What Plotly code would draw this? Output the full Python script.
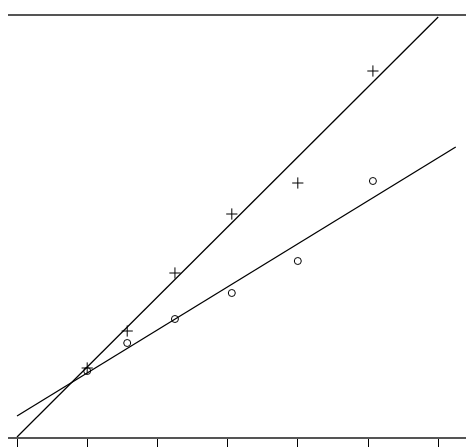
import plotly.graph_objects as go

# marker positions
x_pts = [1.0, 1.57, 2.25, 3.06, 4.0, 5.07]
y_plus = [69, 106, 164, 223, 254, 366]
y_circle = [66, 94, 118, 144, 176, 256]

# fitted lines, endpoints
steep_x = [0.0, 6.0]
steep_y = [0, 420]
shallow_x = [0.0, 6.25]
shallow_y = [21, 290]

tick_vals = [0, 1, 2, 3, 4, 5, 6]

fig = go.Figure()
fig.add_trace(go.Scatter(x=steep_x, y=steep_y, mode="lines", line=dict(color="black", width=1.3)))
fig.add_trace(go.Scatter(x=shallow_x, y=shallow_y, mode="lines", line=dict(color="black", width=1.3)))
fig.add_trace(go.Scatter(x=x_pts, y=y_plus, mode="markers",
                         marker=dict(symbol="cross-thin", size=8, line=dict(color="black", width=1))))
fig.add_trace(go.Scatter(x=x_pts, y=y_circle, mode="markers",
                         marker=dict(symbol="circle-open", size=7, color="black", line=dict(width=1))))

fig.add_shape(type="line", xref="paper", yref="paper", x0=0.979, x1=0.979, y0=0, y1=1,
              line=dict(color="#cccccc", width=1.5))

fig.update_layout(
    width=474, height=447,
    margin=dict(l=0, r=0, t=8, b=18),
    paper_bgcolor="white", plot_bgcolor="white",
    showlegend=False,
)
fig.update_xaxes(range=[-9 / 70.2, 465 / 70.2], tickvals=tick_vals, showticklabels=False,
                 ticks="outside", ticklen=10, tickcolor="black", showline=True, linecolor="#555555",
                 linewidth=1.5, mirror=True, showgrid=False, zeroline=False)
fig.update_yaxes(range=[0, 421], showticklabels=False, showgrid=False, zeroline=False, showline=False)

fig.write_html("out.html")
